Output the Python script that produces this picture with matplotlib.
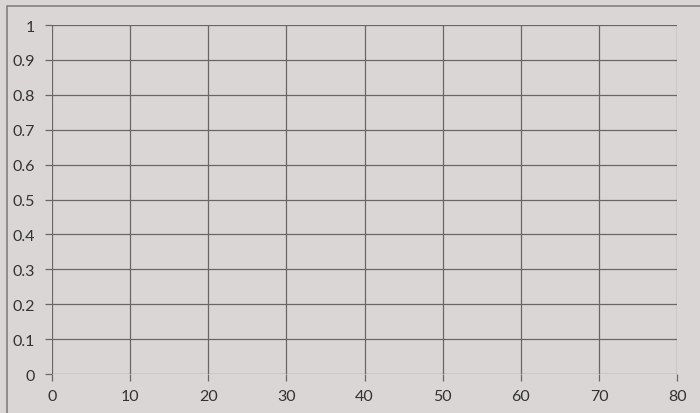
import matplotlib
matplotlib.use("Agg")
import matplotlib.pyplot as plt
from matplotlib.patches import Rectangle

x_ticks = [0, 10, 20, 30, 40, 50, 60, 70, 80]
x_labels = ["0", "10", "20", "30", "40", "50", "60", "70", "80"]
y_ticks = [0, 0.1, 0.2, 0.3, 0.4, 0.5, 0.6, 0.7, 0.8, 0.9, 1]
y_labels = ["0", "0.1", "0.2", "0.3", "0.4", "0.5", "0.6", "0.7", "0.8", "0.9", "1"]

plt.rcParams['font.family'] = ['Lato', 'DejaVu Sans']

bg = "#dbd6d6"
grid_c = "#676767"

fig = plt.figure(figsize=(7, 4.14), dpi=100, facecolor=bg)
ax = fig.add_axes([0.0743, 0.094, 0.893, 0.843])
ax.set_facecolor(bg)
ax.set_xlim(0, 80)
ax.set_ylim(0, 1)
ax.set_xticks(x_ticks)
ax.set_xticklabels(x_labels)
ax.set_yticks(y_ticks)
ax.set_yticklabels(y_labels)
ax.grid(True, color=grid_c, linewidth=0.9)
ax.set_axisbelow(False)
for s in ax.spines.values():
    s.set_visible(False)
ax.tick_params(axis="both", length=5, width=0.9, color=grid_c,
               labelsize=11.5, labelcolor="#333333")
ax.tick_params(axis="x", pad=6)
ax.tick_params(axis="y", pad=7)

# outer chart border (photo of a chart area)
fig.patches.append(Rectangle((7 / 700, -0.05), 1.1, 1 - 7 / 414 + 0.05,
                             transform=fig.transFigure, fill=False,
                             edgecolor="#7a7a7a", linewidth=1.1))

fig.savefig("out.png", dpi=100, facecolor=bg)
